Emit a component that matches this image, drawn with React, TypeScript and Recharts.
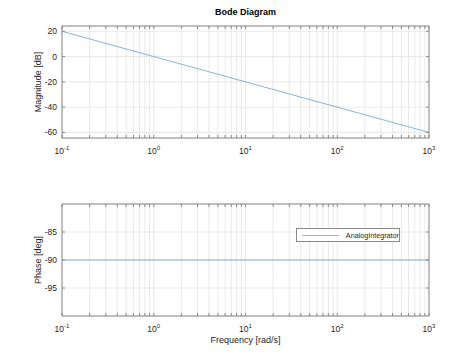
import { LineChart, Line, XAxis, YAxis, CartesianGrid } from 'recharts';

// frequency grid (rad/s), decades only -- the integrator is a straight line on log axes
const freqs = [0.1, 1, 10, 100, 1000];
const magnitudeDb = [20, 0, -20, -40, -60];
const phaseDeg = [-90, -90, -90, -90, -90];

const decades = [0.1, 1, 10, 100, 1000];
const decadeExp = ['-1', '0', '1', '2', '3'];
const magTicks = [-60, -40, -20, 0, 20];
const phaseTicks = [-95, -90, -85];

const seriesName = 'AnalogIntegrator';

// minor log ticks 2..9 in every decade, plus the decades themselves
const xTicks: number[] = [];
decades.forEach((d, i) => {
  xTicks.push(d);
  if (i < decades.length - 1) {
    for (let k = 2; k <= 9; k++) xTicks.push(+(d * k).toPrecision(3));
  }
});

const magData = freqs.map((f, i) => ({ f, mag: magnitudeDb[i] }));
const phaseData = freqs.map((f, i) => ({ f, phase: phaseDeg[i] }));

const FONT = '"Liberation Sans", Arial, Helvetica, sans-serif';
const TXT = '#262626';
const AXIS = '#8a8a8a';
const GRID = '#e3e3e3';
const LINE = '#4f97d1';
const W = 474;

const DecadeTick = ({ x, y, payload }: any) => {
  const idx = decades.findIndex((d) => Math.abs(d - payload.value) < 1e-9);
  if (idx < 0) return <g />;
  return (
    <text x={x} y={y + 16} textAnchor="middle" fontFamily={FONT} fontSize={8.5} fill={TXT}>
      10
      <tspan dy={-4} fontSize={6}>{decadeExp[idx]}</tspan>
    </text>
  );
};

const yLabel = (text: string) => ({ viewBox }: any) => {
  const cy = viewBox.y + viewBox.height / 2;
  return (
    <text
      x={41}
      y={cy}
      transform={`rotate(-90 41 ${cy})`}
      textAnchor="middle"
      fontFamily={FONT}
      fontSize={9}
      fill={TXT}
    >
      {text}
    </text>
  );
};

const tickStyle = { fontFamily: FONT, fontSize: 8.5, fill: TXT };
const blank = () => '';

function Panel({
  data,
  dataKey,
  yDomain,
  yTicks,
  label,
  height,
  xAxisHeight,
  xLabel,
}: {
  data: any[];
  dataKey: string;
  yDomain: [number, number];
  yTicks: number[];
  label: string;
  height: number;
  xAxisHeight: number;
  xLabel?: string;
}) {
  return (
    <LineChart width={W} height={height} data={data} margin={{ top: 20, right: 40, bottom: 0, left: 0 }}>
      <CartesianGrid stroke={GRID} strokeWidth={0.8} />
      <XAxis
        dataKey="f"
        type="number"
        scale="log"
        domain={[0.1, 1000]}
        allowDataOverflow
        ticks={xTicks}
        interval={0}
        height={xAxisHeight}
        stroke={AXIS}
        tickSize={-3}
        tickMargin={3}
        tick={<DecadeTick />}
        label={
          xLabel
            ? {
                value: xLabel,
                position: 'insideBottom',
                offset: 12,
                style: { fontFamily: FONT, fontSize: 9, fill: TXT },
              }
            : undefined
        }
      />
      <XAxis
        xAxisId="top"
        orientation="top"
        dataKey="f"
        type="number"
        scale="log"
        domain={[0.1, 1000]}
        allowDataOverflow
        ticks={xTicks}
        interval={0}
        height={6}
        stroke={AXIS}
        tickSize={-3}
        tickFormatter={blank}
      />
      <YAxis
        type="number"
        domain={yDomain}
        allowDataOverflow
        ticks={yTicks}
        interval={0}
        width={62}
        stroke={AXIS}
        tickSize={-3}
        tickMargin={8}
        tick={tickStyle}
        label={{ content: yLabel(label) }}
      />
      <YAxis
        yAxisId="right"
        orientation="right"
        type="number"
        domain={yDomain}
        allowDataOverflow
        ticks={yTicks}
        interval={0}
        width={5}
        stroke={AXIS}
        tickSize={-3}
        tickFormatter={blank}
      />
      <Line
        dataKey={dataKey}
        name={seriesName}
        stroke={LINE}
        strokeWidth={0.7}
        dot={false}
        isAnimationActive={false}
      />
    </LineChart>
  );
}

export default function App() {
  return (
    <div
      style={{
        position: 'absolute',
        left: 0,
        top: 0,
        width: W,
        height: 355,
        background: '#fff',
        fontFamily: FONT,
      }}
    >
      <div
        style={{
          position: 'absolute',
          left: 0,
          width: W,
          top: 7,
          textAlign: 'center',
          paddingLeft: 17,
          boxSizing: 'border-box',
          fontSize: 9,
          fontWeight: 'bold',
          color: '#000',
          lineHeight: '11px',
        }}
      >
        Bode Diagram
      </div>
      <div style={{ position: 'absolute', left: 0, top: 0 }}>
        <Panel
          data={magData}
          dataKey="mag"
          yDomain={[-64.4, 24.2]}
          yTicks={magTicks}
          label="Magnitude [dB]"
          height={160}
          xAxisHeight={22}
        />
      </div>
      <div style={{ position: 'absolute', left: 0, top: 178 }}>
        <Panel
          data={phaseData}
          dataKey="phase"
          yDomain={[-100, -80]}
          yTicks={phaseTicks}
          label="Phase [deg]"
          height={177}
          xAxisHeight={39}
          xLabel="Frequency [rad/s]"
        />
      </div>
      {/* legend box, inside the phase axes */}
      <div
        style={{
          position: 'absolute',
          left: 296,
          top: 228,
          width: 104,
          height: 14,
          boxSizing: 'border-box',
          border: '1px solid #8a8a8a',
          background: '#fff',
          display: 'flex',
          alignItems: 'center',
        }}
      >
        <div style={{ marginLeft: 5, width: 37, height: 1, background: '#8fbbe2' }} />
        <span style={{ marginLeft: 7, fontSize: 7.2, color: TXT, whiteSpace: 'nowrap' }}>{seriesName}</span>
      </div>
    </div>
  );
}
